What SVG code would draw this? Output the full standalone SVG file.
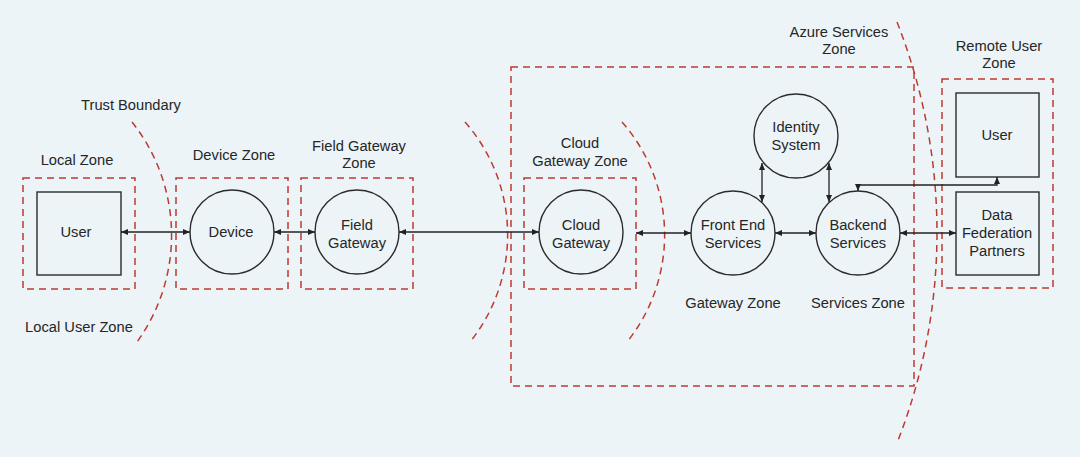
<svg xmlns="http://www.w3.org/2000/svg" width="1080" height="457" viewBox="0 0 1080 457">
<defs>
<marker id="ah" viewBox="0 0 7 6" refX="7" refY="3" markerWidth="7" markerHeight="6" markerUnits="userSpaceOnUse" orient="auto-start-reverse">
<path d="M0,0 L7,3 L0,6 z" fill="#222"/>
</marker>
<style>
.zone{fill:none;stroke:#bd3a30;stroke-width:1.5;stroke-dasharray:7,5}
.node{fill:none;stroke:#2b2b2b;stroke-width:1.4}
.t{font-family:"Liberation Sans",Arial,sans-serif;font-size:14.7px;fill:#262626;text-anchor:middle}
.c{fill:none;stroke:#222;stroke-width:1.3;marker-start:url(#ah);marker-end:url(#ah)}
</style>
</defs>
<rect width="1080" height="457" fill="#ecf4f8"/>

<g id="boundaries">
<path class="zone" d="M132,122 A182,182 0 0 1 137,342"/>
<path class="zone" d="M465,122 A171,171 0 0 1 470,342"/>
<path class="zone" d="M622,122 A171,171 0 0 1 627,342"/>
<path class="zone" d="M897,22 A574,574 0 0 1 897,443"/>
<text class="t" x="131" y="110">Trust Boundary</text>
<text class="t" x="79" y="332">Local User Zone</text>
</g>

<g id="local-zone">
<rect class="zone" x="23" y="178" width="112" height="111"/>
<text class="t" x="77" y="165">Local Zone</text>
</g>
<g id="device-zone">
<rect class="zone" x="176" y="178" width="112" height="111"/>
<text class="t" x="234" y="160">Device Zone</text>
</g>
<g id="field-gateway-zone">
<rect class="zone" x="301" y="178" width="112" height="111"/>
<text class="t" x="359" y="151">Field Gateway</text>
<text class="t" x="359" y="168">Zone</text>
</g>
<g id="azure-services-zone">
<rect class="zone" x="511" y="67" width="403" height="319"/>
<text class="t" x="839" y="37">Azure Services</text>
<text class="t" x="839" y="54">Zone</text>
</g>
<g id="cloud-gateway-zone">
<rect class="zone" x="524" y="178" width="112" height="111"/>
<text class="t" x="580" y="148">Cloud</text>
<text class="t" x="580" y="166">Gateway Zone</text>
</g>
<g id="remote-user-zone">
<rect class="zone" x="942" y="79" width="111" height="209"/>
<text class="t" x="999" y="51">Remote User</text>
<text class="t" x="999" y="68">Zone</text>
</g>
<g id="gateway-zone-label"><text class="t" x="733" y="308">Gateway Zone</text></g>
<g id="services-zone-label"><text class="t" x="858" y="308">Services Zone</text></g>

<g id="user">
<rect class="node" x="37" y="192" width="84" height="83"/>
<text class="t" x="76" y="237">User</text>
</g>
<g id="device">
<circle class="node" cx="232" cy="232" r="42"/>
<text class="t" x="231" y="237">Device</text>
</g>
<g id="field-gateway">
<circle class="node" cx="357" cy="232" r="42"/>
<text class="t" x="357" y="230">Field</text>
<text class="t" x="357" y="248">Gateway</text>
</g>
<g id="cloud-gateway">
<circle class="node" cx="581" cy="232" r="42"/>
<text class="t" x="581" y="230">Cloud</text>
<text class="t" x="581" y="248">Gateway</text>
</g>
<g id="identity-system">
<circle class="node" cx="796" cy="136" r="42"/>
<text class="t" x="796" y="132">Identity</text>
<text class="t" x="796" y="150">System</text>
</g>
<g id="front-end-services">
<circle class="node" cx="733" cy="233" r="42"/>
<text class="t" x="733" y="230">Front End</text>
<text class="t" x="733" y="248">Services</text>
</g>
<g id="backend-services">
<circle class="node" cx="858" cy="233" r="42"/>
<text class="t" x="858" y="230">Backend</text>
<text class="t" x="858" y="248">Services</text>
</g>
<g id="remote-user">
<rect class="node" x="956" y="93" width="83" height="84"/>
<text class="t" x="997" y="140">User</text>
</g>
<g id="data-federation-partners">
<rect class="node" x="956" y="192" width="83" height="83"/>
<text class="t" x="997" y="220">Data</text>
<text class="t" x="997" y="238">Federation</text>
<text class="t" x="997" y="256">Partners</text>
</g>

<g id="connectors">
<line class="c" x1="121" y1="232" x2="190" y2="232"/>
<line class="c" x1="274" y1="232" x2="315" y2="232"/>
<line class="c" x1="399" y1="232" x2="539" y2="232"/>
<line class="c" x1="636" y1="233" x2="691" y2="233"/>
<line class="c" x1="775" y1="233" x2="816" y2="233"/>
<line class="c" x1="900" y1="233" x2="956" y2="233"/>
<line class="c" x1="762" y1="163" x2="762" y2="202"/>
<line class="c" x1="829" y1="163" x2="829" y2="202"/>
<polyline class="c" points="858,191 858,185 997,185 997,177"/>
</g>
</svg>
